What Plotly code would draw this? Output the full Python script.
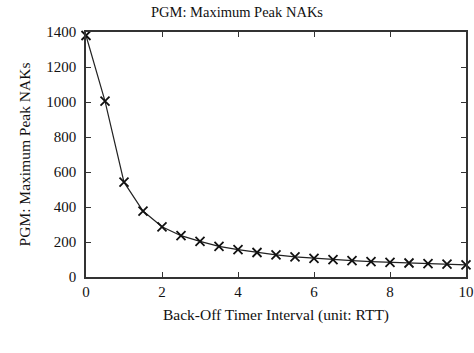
import plotly.graph_objects as go

x_vals = [0, 0.5, 1, 1.5, 2, 2.5, 3, 3.5, 4, 4.5, 5, 5.5, 6, 6.5, 7, 7.5, 8, 8.5, 9, 9.5, 10]
y_vals = [1380, 1005, 542, 377, 287, 236, 204, 175, 156, 140, 126, 115, 107, 99, 94, 88, 84, 80, 76, 73, 69]

x_ticks = [0, 2, 4, 6, 8, 10]
y_ticks = [0, 200, 400, 600, 800, 1000, 1200, 1400]

font = "Liberation Serif, Times New Roman, serif"

fig = go.Figure()
fig.add_trace(go.Scatter(
    x=x_vals, y=y_vals, mode="lines+markers",
    line=dict(color="#222222", width=1.2),
    marker=dict(symbol="x-thin", size=9, line=dict(color="#111111", width=1.8)),
    showlegend=False, cliponaxis=False,
))

axis_common = dict(
    showgrid=False, zeroline=False, showline=True, linecolor="#333333", linewidth=1.5,
    mirror="ticks", ticks="inside", ticklen=5, tickcolor="#333333", tickwidth=1,
    tickfont=dict(family=font, size=15, color="#111111"), automargin=False,
)

fig.update_layout(
    width=474, height=353,
    margin=dict(l=86, r=8, t=32, b=76),
    paper_bgcolor="white", plot_bgcolor="white",
    title=dict(text="PGM: Maximum Peak NAKs", x=0.5, xanchor="center", y=0.965, yanchor="middle",
               font=dict(family=font, size=14.5, color="#111111")),
    xaxis=dict(range=[0, 10], tickvals=x_ticks, ticktext=[str(v) for v in x_ticks],
               title=dict(text="Back-Off Timer Interval (unit: RTT)", font=dict(family=font, size=15.5, color="#111111"), standoff=10),
               **axis_common),
    yaxis=dict(range=[0, 1400], tickvals=y_ticks, ticktext=[str(v) for v in y_ticks],
               ticklabelstandoff=5,
               title=dict(text="PGM: Maximum Peak NAKs", font=dict(family=font, size=15.5, color="#111111"), standoff=12),
               **axis_common),
)

fig.write_html("out.html")
